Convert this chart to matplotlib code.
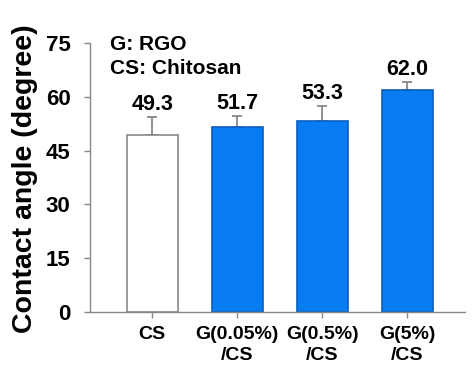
import matplotlib
matplotlib.use("Agg")
import matplotlib.pyplot as plt

categories = ["CS", "G(0.05%)\n/CS", "G(0.5%)\n/CS", "G(5%)\n/CS"]
values = [49.3, 51.7, 53.3, 62.0]
errors = [5.1, 3.0, 4.0, 2.0]
labels = ["49.3", "51.7", "53.3", "62.0"]
yticks = [0, 15, 30, 45, 60, 75]

plt.rcParams['font.family'] = ['Liberation Sans', 'DejaVu Sans']
plt.rcParams['font.weight'] = 'bold'

fig = plt.figure(figsize=(4.74, 3.77), dpi=100)
ax = fig.add_axes([90/474, 1-312/377, (465-90)/474, (312-43)/377])

blue = '#0A7CF2'
faces = ['white', blue, blue, blue]
edges = ['#888888', '#0A5FC0', '#0A5FC0', '#0A5FC0']
x = list(range(len(categories)))
ax.bar(x, values, width=0.6, color=faces, edgecolor=edges, linewidth=1.2, zorder=2)
ax.errorbar(x, values, yerr=[[0]*4, errors], fmt='none', ecolor='#888888',
            elinewidth=1.3, capsize=3.5, capthick=1.3, zorder=1)
for xi, v, e, t in zip(x, values, errors, labels):
    ax.annotate(t, (xi, v + e), xytext=(0, 1.5), textcoords='offset points',
                ha='center', va='bottom', fontsize=15.5, fontweight='bold')

ax.set_xlim(-0.73, 3.68)
ax.set_ylim(0, 75)
ax.set_yticks(yticks)
ax.set_xticks(x)
ax.set_xticklabels(categories, fontsize=14, fontweight='bold', linespacing=1.35)
ax.tick_params(axis='y', labelsize=16, direction='out', length=4, color='#888888', width=1, pad=10)
ax.tick_params(axis='x', direction='out', length=4, color='#888888', width=1, pad=6)
for s in ['top', 'right']:
    ax.spines[s].set_visible(False)
for s in ['left', 'bottom']:
    ax.spines[s].set_color('#888888')
    ax.spines[s].set_linewidth(1)
ax.set_ylabel("Contact angle (degree)", fontsize=20.5, fontweight='bold')
ax.yaxis.set_label_coords((38-90)/375, 0.495)
ax.text(110/474, 1-44/377, "G: RGO", transform=fig.transFigure, fontsize=15, fontweight='bold', va='center', ha='left')
ax.text(110/474, 1-69/377, "CS: Chitosan", transform=fig.transFigure, fontsize=15, fontweight='bold', va='center', ha='left')

fig.savefig("out.png", dpi=100)
